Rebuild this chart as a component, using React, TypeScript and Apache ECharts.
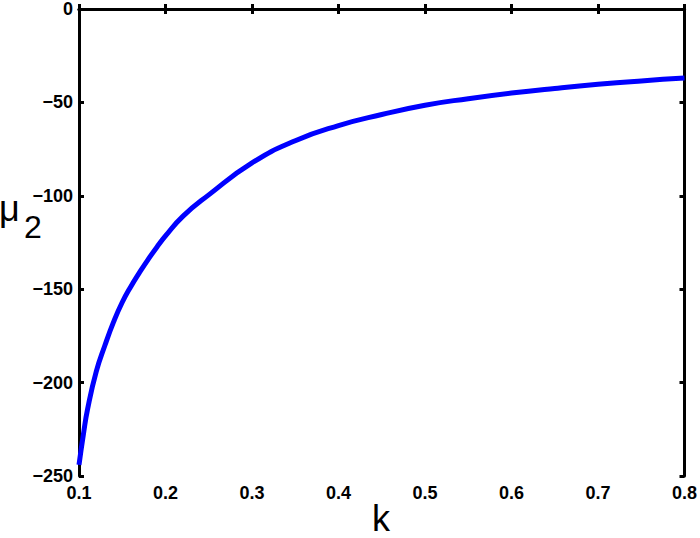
import React, { useEffect, useRef } from "react";
import * as echarts from "echarts";

// values
const kValues = [
  0.1, 0.105, 0.11, 0.12, 0.13, 0.14, 0.15, 0.16, 0.17, 0.18, 0.19, 0.2, 0.22,
  0.25, 0.3, 0.35, 0.4, 0.45, 0.5, 0.55, 0.6, 0.65, 0.7, 0.75, 0.8,
];
const mu2Values = [
  -244, -228, -214, -194, -180, -167.5, -157, -148.5, -141, -134, -127.5,
  -121.5, -111, -99.5, -82.4, -70.5, -62.4, -56.5, -51.5, -48, -45, -42.5,
  -40.3, -38.5, -37,
];
const xTicks = [0.1, 0.2, 0.3, 0.4, 0.5, 0.6, 0.7, 0.8];
const yTicks = [-250, -200, -150, -100, -50, 0];

const FONT = "'Liberation Sans', Arial, sans-serif";

const App = () => {
  const chartRef = useRef<HTMLDivElement>(null);

  useEffect(() => {
    if (!chartRef.current) return;
    const chart = echarts.init(chartRef.current, null, { renderer: "svg" });

    const axisLine = { show: true, lineStyle: { color: "#000", width: 3 } };
    const axisTick = { show: true, inside: true, length: 5, lineStyle: { color: "#000", width: 3 } };
    const labelStyle = { color: "#000", fontFamily: FONT, fontSize: 18, fontWeight: "bold" as const };

    const options = {
      animation: false,
      backgroundColor: "#fff",
      grid: { left: 79, top: 7, right: 13, bottom: 62 },
      xAxis: [
        {
          type: "value",
          min: xTicks[0],
          max: xTicks[xTicks.length - 1],
          interval: 0.1,
          position: "bottom",
          axisLine,
          axisTick,
          splitLine: { show: false },
          axisLabel: { ...labelStyle, margin: 8, formatter: (v: number) => v.toFixed(1) },
        },
        {
          type: "value",
          min: xTicks[0],
          max: xTicks[xTicks.length - 1],
          interval: 0.1,
          position: "top",
          axisLine,
          axisTick,
          splitLine: { show: false },
          axisLabel: { show: false },
        },
      ],
      yAxis: [
        {
          type: "value",
          min: yTicks[0],
          max: yTicks[yTicks.length - 1],
          interval: 50,
          position: "left",
          axisLine,
          axisTick,
          splitLine: { show: false },
          axisLabel: {
            ...labelStyle,
            margin: 6,
            formatter: (v: number) => String(v).replace("-", "\u2212"),
          },
        },
        {
          type: "value",
          min: yTicks[0],
          max: yTicks[yTicks.length - 1],
          interval: 50,
          position: "right",
          axisLine,
          axisTick,
          splitLine: { show: false },
          axisLabel: { show: false },
        },
      ],
      graphic: [
        {
          type: "text",
          left: 372,
          top: 500,
          style: { text: "k", font: `36px ${FONT}`, fill: "#000" },
        },
        {
          type: "text",
          left: -1,
          top: 190,
          style: { text: "\u03bc", font: `36px ${FONT}`, fill: "#000" },
        },
        {
          type: "text",
          left: 24,
          top: 211,
          style: { text: "2", font: `32px ${FONT}`, fill: "#000" },
        },
      ],
      series: [
        {
          type: "line",
          data: kValues.map((k, i) => [k, mu2Values[i]]),
          showSymbol: false,
          smooth: true,
          lineStyle: { color: "#0000ff", width: 5 },
        },
      ],
    };

    chart.setOption(options);
    return () => chart.dispose();
  }, []);

  return (
    <div
      ref={chartRef}
      style={{ position: "fixed", left: 0, top: 0, width: "700px", height: "538px" }}
    />
  );
};

export default App;
